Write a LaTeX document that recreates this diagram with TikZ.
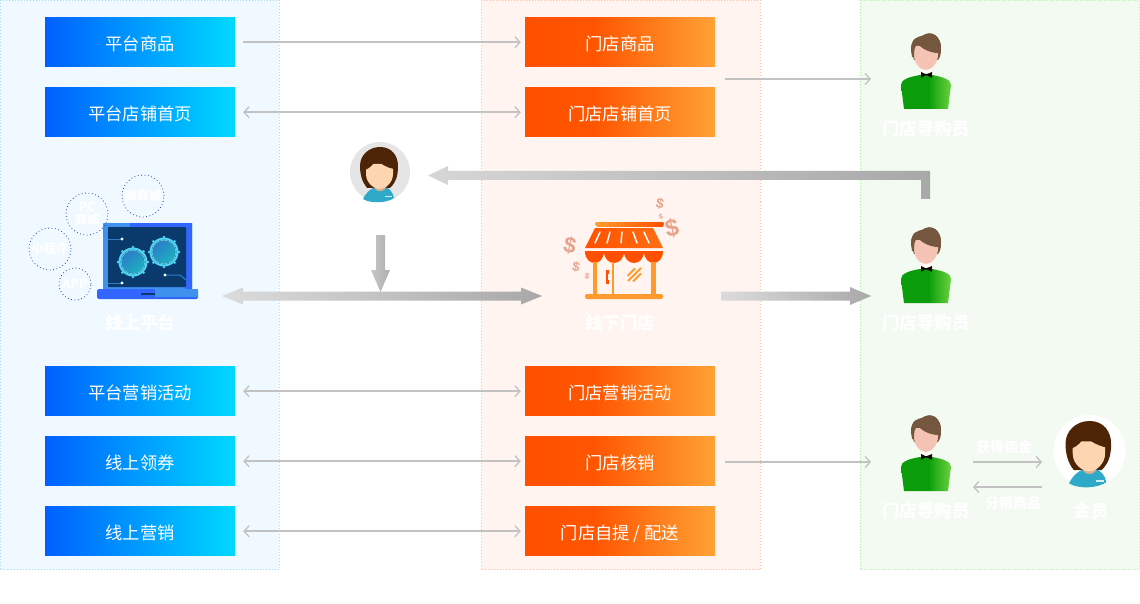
\documentclass[tikz,border=0pt]{standalone}
\usepackage{fontspec}
\setmainfont{Noto Sans CJK SC}
\newfontfamily\dollarfont{Liberation Sans}
\usetikzlibrary{arrows.meta,calc}
\definecolor{boxblueA}{HTML}{0060FF}
\definecolor{boxblueB}{HTML}{00D8FF}
\definecolor{boxorA}{HTML}{FF5000}
\definecolor{boxorB}{HTML}{FF5500}
\definecolor{boxorC}{HTML}{FFA235}
\definecolor{panelblue}{HTML}{EFF9FF}
\definecolor{panelor}{HTML}{FFF4EF}
\definecolor{panelgr}{HTML}{F2FAF1}
\definecolor{edgeblue}{HTML}{A5DDF5}
\definecolor{edgeor}{HTML}{FFC0A8}
\definecolor{edgegr}{HTML}{AEF5A6}
\definecolor{thin}{HTML}{C2C2C2}
\definecolor{hairM}{HTML}{75563F}
\definecolor{skinM}{HTML}{F5C3B3}
\definecolor{bodyA}{HTML}{0A9C0A}
\definecolor{bodyB}{HTML}{6AD23F}
\definecolor{hairW}{HTML}{4D2406}
\definecolor{skinW}{HTML}{FDD5B1}
\definecolor{tealW}{HTML}{2EAAC8}
\definecolor{dollar}{HTML}{E8A28C}
\definecolor{lapA}{HTML}{3E92EE}
\definecolor{lapB}{HTML}{3366FF}
\definecolor{lapC}{HTML}{0A3A6B}
\definecolor{gearA}{HTML}{4FD4F5}
\definecolor{gearB}{HTML}{2A7FC8}
\definecolor{gearC}{HTML}{1EB0C0}
\definecolor{storeA}{HTML}{FF5000}
\definecolor{storeB}{HTML}{FF9A2E}
\pgfdeclarehorizontalshading{blueboxshade}{100bp}{color(0bp)=(boxblueA);color(25bp)=(boxblueA);color(75bp)=(boxblueB);color(100bp)=(boxblueB)}
\pgfdeclarehorizontalshading{orangeboxshade}{100bp}{color(0bp)=(boxorA);color(25bp)=(boxorA);color(43bp)=(boxorB);color(75bp)=(boxorC);color(100bp)=(boxorC)}
\pgfdeclarehorizontalshading{manshade}{100bp}{color(0bp)=(bodyA);color(25bp)=(bodyA);color(52bp)=(bodyA);color(75bp)=(bodyB);color(100bp)=(bodyB)}
\tikzset{
  x=1pt,y=-1pt,
  bluebox/.style={minimum width=190pt,minimum height=49.5pt,inner sep=0pt,shading=blueboxshade,text=white,text height=18.4pt,text depth=2pt,font=\fontsize{17.3}{20}\selectfont},
  orangebox/.style={minimum width=190pt,minimum height=49.5pt,inner sep=0pt,shading=orangeboxshade,text=white,text height=18.4pt,text depth=2pt,font=\fontsize{17.3}{20}\selectfont},
  panel/.style={line width=0.8pt,dash pattern=on 1pt off 2pt},
  thinline/.style={draw=thin,line width=2pt},
  oneway/.style={thinline,-{Straight Barb[length=5pt,width=11pt,line width=1.3pt]}},
  twoway/.style={thinline,{Straight Barb[length=5pt,width=11pt,line width=1.3pt]}-{Straight Barb[length=5pt,width=11pt,line width=1.3pt]}},
  whitelabel/.style={text=white,inner sep=0pt,font=\fontsize{17.4}{20}\selectfont\bfseries},
  smalllabel/.style={text=white,inner sep=0pt,font=\fontsize{14}{16}\selectfont\bfseries},
  bubble/.style={circle,draw=lapB!70!black,line width=0.8pt,dash pattern=on 0.8pt off 2.6pt,inner sep=0pt,text=white,align=center,font=\fontsize{12.5}{14}\selectfont\bfseries},
  dollarsign/.style={text=dollar,inner sep=0pt},
  bigarrow/.style={left color=#1,right color=black!34,draw=none},
}
\newcommand{\shopman}[1]{%
\begin{scope}[shift={(0,#1)}]
  \fill[hairM] (911,50) .. controls (911,38) and (918,37) .. (922,36) .. controls (932,29) and (941,37) .. (941,48) .. controls (941,54) and (940,58) .. (938,60) -- (914,60) -- cycle;
  \fill[white!90!skinM] (921,67) rectangle (931,76);
  \fill[skinM] (914,46) -- (938,46) -- (938,55) .. controls (938,63) and (931,70) .. (926,70) .. controls (920,70) and (914,63) .. (914,55) -- cycle;
  \fill[hairM] (911,50) .. controls (911,38) and (918,37) .. (922,36) .. controls (932,29) and (941,37) .. (941,48) .. controls (941,52) and (940,56) .. (938,58) -- (938,53) .. controls (932,53) and (923,50) .. (918,44) .. controls (914,46) and (914,52) .. (914,57) -- (912,57) -- cycle;
  \shade[shading=manshade] (901,85) .. controls (901,80) and (908,77) .. (920,75) -- (932,75) .. controls (944,77) and (951,80) .. (951,85) -- (948,109) -- (904,109) -- cycle;
  \fill[black!80!hairW] (921,72) -- (925,74) -- (927,74) -- (932,72) -- (932,78) -- (927,75.5) -- (925,75.5) -- (921,78) -- cycle;
\end{scope}}
\newcommand{\womanicon}[2]{%
\begin{scope}[shift={(#1)},scale=#2]
  \fill[hairW] (0,-25) .. controls (12,-25) and (18,-16) .. (18,-6) .. controls (18,4) and (16,10) .. (10,16) -- (-13,16) .. controls (-18,10) and (-20,2) .. (-20,-6) .. controls (-20,-17) and (-11,-25) .. (0,-25) -- cycle;
  \fill[tealW] (-17,27) .. controls (-14,20) and (-8,16) .. (-4,15) -- (5,15) .. controls (9,16) and (13,20) .. (14,26) .. controls (7,31) and (-9,32) .. (-17,27) -- cycle;
  \fill[skinW!70!hairM] (-5,10) -- (5,10) -- (5,17) .. controls (2,20) and (-2,20) .. (-5,17) -- cycle;
  \fill[skinW] (-14,-8) -- (13,-8) -- (13,2) .. controls (13,11) and (5,17) .. (0,17) .. controls (-6,17) and (-14,11) .. (-14,2) -- cycle;
  \fill[hairW] (-16,-14) .. controls (-10,-22) and (8,-22) .. (16,-10) -- (14,-3) .. controls (8,-4) and (0,-8) .. (-4,-13) .. controls (-6,-8) and (-10,-4) .. (-15,-2) -- cycle;
  \fill[white!80!tealW] (5,24) rectangle (12,25.5);
\end{scope}}
\newcommand{\geargfx}[2]{%
  \foreach \a in {0,45,...,315}{\fill[gearA] ($(#1,#2)+(\a:15)$) circle (1.4);}
  \fill[gearA] (#1,#2) circle (14.5);
  \fill[lapC!60!gearC] (#1,#2) circle (12.5);
  \shade[left color=gearB,right color=gearC,shading angle=40] (#1,#2) circle (11.3);
  \draw[gearA!70!white,line width=0.5pt] (#1,#2) circle (11.9);
}
\begin{document}
\begin{tikzpicture}
\useasboundingbox (0,0) rectangle (1140,604);
% panels
\fill[panelblue] (0,0) rectangle (279,570);
\draw[edgeblue,panel] (0.5,0.5) rectangle (279,569.5);
\fill[panelor] (481,0) rectangle (760,570);
\draw[edgeor,panel] (481,0.5) rectangle (760,569.5);
\fill[panelgr] (860,0) rectangle (1140,570);
\draw[edgegr,panel] (860,0.5) rectangle (1139.5,569.5);
% boxes
\node[bluebox] (p1) at (140,42.2) {平台商品};
\node[bluebox] (p2) at (140,112.2) {平台店铺首页};
\node[bluebox] (p3) at (140,391.2) {平台营销活动};
\node[bluebox] (p4) at (140,461.2) {线上领券};
\node[bluebox] (p5) at (140,531.2) {线上营销};
\node[orangebox] (s1) at (620,42.2) {门店商品};
\node[orangebox] (s2) at (620,112.2) {门店店铺首页};
\node[orangebox] (s3) at (620,391.2) {门店营销活动};
\node[orangebox] (s4) at (620,461.2) {门店核销};
\node[orangebox] (s5) at (620,531.2) {门店自提 / 配送};
% thin connectors
\draw[oneway,shorten <=8pt,shorten >=4pt] (p1) -- (s1);
\draw[twoway,shorten <=8pt,shorten >=4pt] (p2) -- (s2);
\draw[twoway,shorten <=8pt,shorten >=4pt] (p3) -- (s3);
\draw[twoway,shorten <=8pt,shorten >=4pt] (p4) -- (s4);
\draw[twoway,shorten <=8pt,shorten >=4pt] (p5) -- (s5);
\coordinate (g1in) at (871,79);
\coordinate (g1from) at (725,79);
\draw[oneway] (g1from) -- (g1in);
\coordinate (g3in) at (871,462);
\coordinate (g3from) at (725,462);
\draw[oneway] (g3from) -- (g3in);
\coordinate (c1a) at (973,462);
\coordinate (c1b) at (1042,462);
\coordinate (c2a) at (1042,487);
\coordinate (c2b) at (973,487);
\draw[oneway] (c1a) -- (c1b);
\draw[oneway] (c2a) -- (c2b);
% thick arrows
\coordinate (dblL) at (222,296);
\coordinate (dblR) at (542,296);
\shade[bigarrow=black!14] (dblL) -- ++(21,-8.5) -- ++(0,4) -- ($(dblR)+(-21,-4.5)$) -- ++(0,-4) -- (dblR) -- ++(-21,8.5) -- ++(0,-4) -- ($(dblL)+(21,4.5)$) -- ++(0,4) -- cycle;
\coordinate (rgtL) at (721,296);
\coordinate (rgtR) at (871,296);
\shade[bigarrow=black!14] (rgtL) ++(0,-4.5) -- ($(rgtR)+(-21,-4.5)$) -- ++(0,-4.5) -- (rgtR) -- ++(-21,9) -- ++(0,-4.5) -- ($(rgtL)+(0,4.5)$) -- cycle;
\coordinate (dnT) at (380.5,235);
\coordinate (dnB) at (380.5,292);
\shade[left color=black!22,right color=black!32] (dnT) ++(-4.5,0) -- ($(dnT)+(4.5,0)$) -- ($(dnB)+(4.5,-22)$) -- ++(5,0) -- (dnB) -- ++(-9.5,-22) -- ++(5,0) -- cycle;
\coordinate (elbS) at (925.5,199);
\coordinate (elbE) at (428,175.5);
\shade[left color=black!16,right color=black!34] (elbE) -- ++(20,-9.5) -- ++(0,5) -- (930,171) -- ++(0,28) -- ++(-9,0) -- (921,180) -- (448,180) -- ++(0,5) -- cycle;
% buyer top-middle
\node[circle,fill=black!10,minimum size=60pt,inner sep=0pt] (buyer) at (380,172) {};
\womanicon{380,172}{1}
% shop guides
\shopman{0}
\shopman{194}
\shopman{382}
\node[whitelabel] (g1) at (926,129) {门店导购员};
\node[whitelabel] (g2) at (926,323) {门店导购员};
\node[whitelabel] (g3) at (926,511) {门店导购员};
% member
\node[circle,fill=white,minimum size=72pt,inner sep=0pt] (member) at (1089.5,451) {};
\womanicon{1089.5,451}{1.2}
\node[whitelabel] (memberlabel) at (1091,511) {会员};
\node[smalllabel] (earn) at (1004,447) {获得佣金};
\node[smalllabel] (dist) at (1013,503) {分销商品};
% laptop
\fill[lapA,rounded corners=0.8pt] (103,223) rectangle (192,290);
\fill[lapB] (130,223) -- (192,223) -- (192,289) -- (185,289) -- (185,227) -- (130,227) -- cycle;
\fill[lapC,rounded corners=0.8pt] (108,227) rectangle (186,287);
\fill[lapB,rounded corners=1.5pt] (97,289) rectangle (198,299);
\fill[lapA] (155,289) rectangle (198,297);
\fill[lapC] (141,293) rectangle (155,295);
\geargfx{133}{262}
\geargfx{164}{252}
\draw[gearB,line width=1pt] (108,239) -- (122,239);
\fill[white] (122,239) circle (1.7);
\draw[gearB,line width=1pt] (108,283) -- (122,283);
\fill[white] (122,283) circle (1.7);
\draw[gearB,line width=1pt] (165,275) -- (180,275) -- (186,280);
\fill[white] (165,275) circle (1.7);
\node[bubble,minimum size=42pt] (wx) at (143,196) {微商城};
\node[bubble,minimum size=42pt] (pc) at (87,214) {PC\\[-1pt]商城};
\node[bubble,minimum size=42pt] (mini) at (50,249) {小程序};
\node[bubble,minimum size=32pt] (app) at (75,284) {APP};
\node[whitelabel] (online) at (140,323) {线上平台};
% store
\shade[left color=storeB,right color=storeA] (597,222) rectangle (663,226);
\fill[storeB] (597,224) circle (2);
\fill[storeA] (662,224) circle (2);
\shade[left color=storeA,right color=storeA!60!storeB] (595,228) -- (653,228) -- (663,248) -- (585,248) -- cycle;
\foreach \xa/\xb in {600/595,610/607,622/621,633/637,644/649}{\draw[white,line width=1.5pt,line cap=round] (\xa,232) -- (\xb,243);}
\foreach \cx in {594.7,614,634,653.3}{\fill[storeA] (\cx-9.7,251) -- (\cx+9.7,251) .. controls (\cx+9.7,267) and (\cx-9.7,267) .. (\cx-9.7,251) -- cycle;}
\fill[storeB] (593,262) rectangle (597,296);
\fill[storeB] (612,262) rectangle (614,296);
\fill[storeB] (651,262) rectangle (656,296);
\fill[storeB,rounded corners=2pt] (585,294) rectangle (663,299);
\fill[storeA] (605.5,270) rectangle (608.5,273.5);
\fill[storeA] (606.2,273) rectangle (607.8,280);
\fill[storeA] (605.5,279.5) rectangle (608.5,284);
\draw[storeB,line width=1.8pt] (627.5,276) -- (635,268.5);
\draw[storeB,line width=1.8pt] (628,281) -- (641,268);
\draw[storeB,line width=1.8pt] (633,281.5) -- (641,273.5);
\node[dollarsign,font=\dollarfont\bfseries\fontsize{22}{22}\selectfont,rotate=-12] (d1) at (570,246) {\$};
\node[dollarsign,font=\dollarfont\bfseries\fontsize{13}{13}\selectfont,rotate=-12] (d2) at (576,267) {\$};
\node[dollarsign,font=\dollarfont\bfseries\fontsize{8}{8}\selectfont,rotate=-12] (d3) at (587,276) {\$};
\node[dollarsign,font=\dollarfont\bfseries\fontsize{14}{14}\selectfont,rotate=-12] (d4) at (660,204) {\$};
\node[dollarsign,font=\dollarfont\bfseries\fontsize{7}{7}\selectfont,rotate=10] (d5) at (661,217) {\$};
\node[dollarsign,font=\dollarfont\bfseries\fontsize{24}{24}\selectfont,rotate=12] (d6) at (672,228) {\$};
\node[whitelabel] (offline) at (620,323) {线下门店};
\end{tikzpicture}
\end{document}
